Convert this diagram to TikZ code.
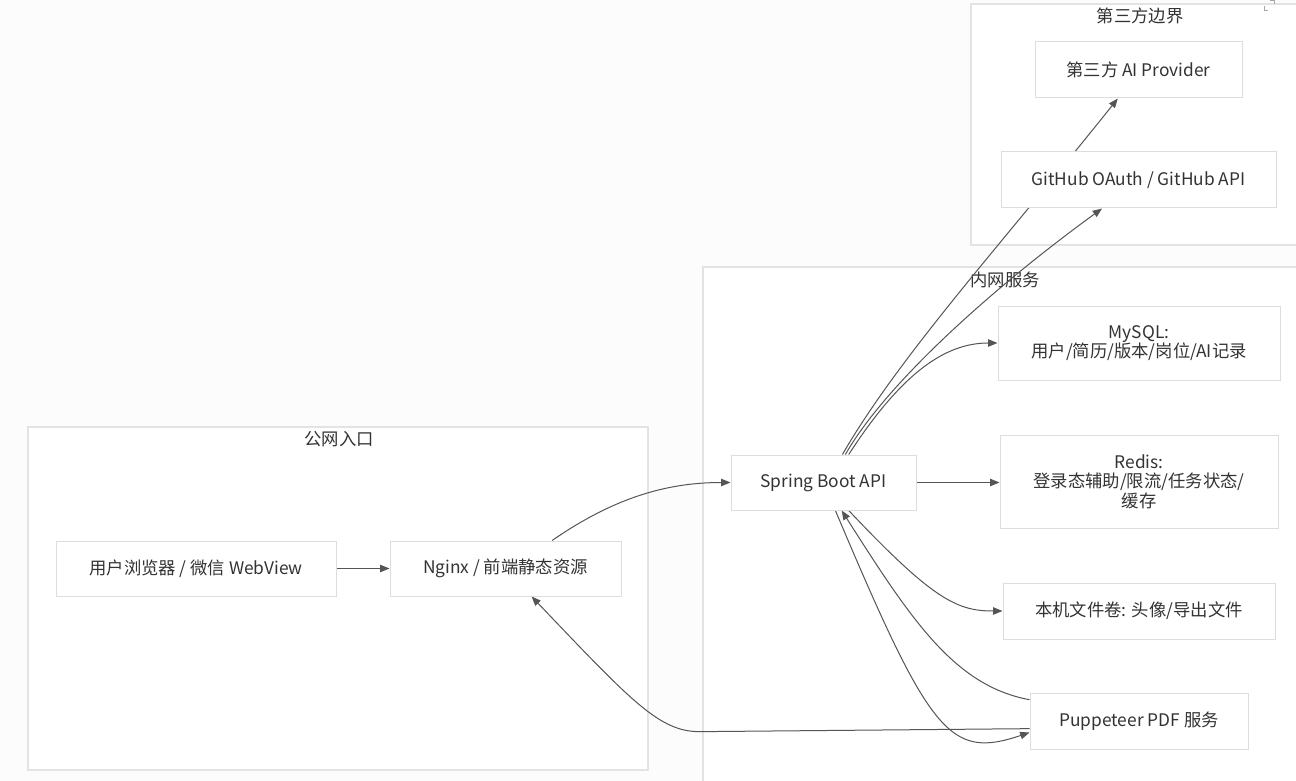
\documentclass[tikz,border=0pt]{standalone}
\usepackage{fontspec}
\setmainfont{Noto Sans CJK SC}
\usetikzlibrary{arrows.meta,positioning,calc,backgrounds}
\definecolor{edgegray}{HTML}{555555}
\definecolor{boxline}{HTML}{DDDDDD}
\definecolor{grpline}{HTML}{E3E3E3}
\definecolor{pagebg}{HTML}{FCFCFC}
\definecolor{txt}{HTML}{333333}
\pgfdeclarelayer{edges}
\pgfsetlayers{background,edges,main}
\tikzset{
  blk/.style={draw=boxline,fill=white,rectangle,line width=0.75pt,minimum height=41.25pt,align=center,text=txt,font=\fontsize{13}{14.5}\selectfont,inner sep=2pt},
  grp/.style={draw=grpline,fill=white,line width=0.9pt},
  lbl/.style={text=txt,font=\fontsize{13}{14.5}\selectfont,inner sep=0pt},
  arr/.style={-{Triangle[length=7pt,width=5.5pt]},draw=edgegray,line width=0.75pt}
}

\begin{document}
\begin{tikzpicture}[x=0.75pt,y=-0.75pt]
  \useasboundingbox (0,0) rectangle (1296,781);

  % Groups
  \begin{scope}[on background layer]
    \fill[pagebg] (0,0) rectangle (1296,781);
    \draw[grp] (28,427) rectangle (648,770);
    \draw[grp] (703,267) rectangle (1308,795);
    \draw[grp] (971,4) rectangle (1309,245);
    \node[lbl] (tpub) at (339,439) {公网入口};
    \node[lbl] (tlan) at (1005,280) {内网服务};
    \node[lbl] (text) at (1140,16) {第三方边界};
    \draw[gray!70,line width=0.6pt] (1264,6) -- (1264,10) -- (1268,10);
    \draw[gray!70,line width=0.6pt] (1270,0.5) -- (1274,0.5) -- (1274,4);
  \end{scope}

  % Public entry
  \node[blk, minimum width=210pt] (browser) at (196,568.5) {用户浏览器 / 微信 WebView};
  \node[blk, minimum width=173.25pt] (nginx) at (505.5,568.5) {Nginx / 前端静态资源};

  % Internal services
  \node[blk, minimum width=138.75pt] (sb) at (823.5,482.5) {Spring Boot API};
  \node[blk, minimum width=211.5pt, minimum height=55.5pt] (mysql) at (1139,343) {MySQL:\\用户/简历/版本/岗位/AI记录};
  \node[blk, minimum width=208.5pt, minimum height=69.75pt] (redis) at (1139,481.5) {Redis:\\登录态辅助/限流/任务状态/\\缓存};
  \node[blk, minimum width=204pt, minimum height=42pt] (files) at (1139,611) {本机文件卷: 头像/导出文件};
  \node[blk, minimum width=163.5pt, minimum height=42pt] (pdf) at (1139,721) {Puppeteer PDF 服务};

  % Third party
  \node[blk, minimum width=206.25pt, minimum height=42pt] (github) at (1138.5,180) {GitHub OAuth / GitHub API};
  \node[blk, minimum width=155.25pt, minimum height=42pt] (ai) at (1138.5,70) {第三方 AI Provider};

  % Connections
  \begin{pgfonlayer}{edges}
    \draw[arr] (browser.east) -- (nginx.west);
    \draw[arr] (nginx.31) .. controls +(65,-45) and +(-60,0) .. (sb.west);
    \draw[arr] (sb.56) .. controls (900,355) and (1005,240) .. (ai.234);
    \draw[arr] (sb.52) .. controls (885,385) and (990,290) .. (github.218);
    \draw[arr] (sb.48) .. controls +(55,-85) and +(-50,0) .. (mysql.west);
    \draw[arr] (sb.east) -- (sb.east -| redis.west);
    \draw[arr] (sb.-48) .. controls +(85,90) and +(-45,0) .. (files.west);
    \draw[arr] (pdf.169) .. controls +(-75,-14) and +(70,110) .. (sb.-57);
    \draw[arr] (sb.-67) .. controls +(95,225) and +(-80,27) .. (pdf.186);
    \draw[arr] (pdf.184) -- ($(pdf.184)+(-330,3)$) .. controls +(-40,0) and +(100,105) .. (nginx.-47);
  \end{pgfonlayer}
\end{tikzpicture}
\end{document}
